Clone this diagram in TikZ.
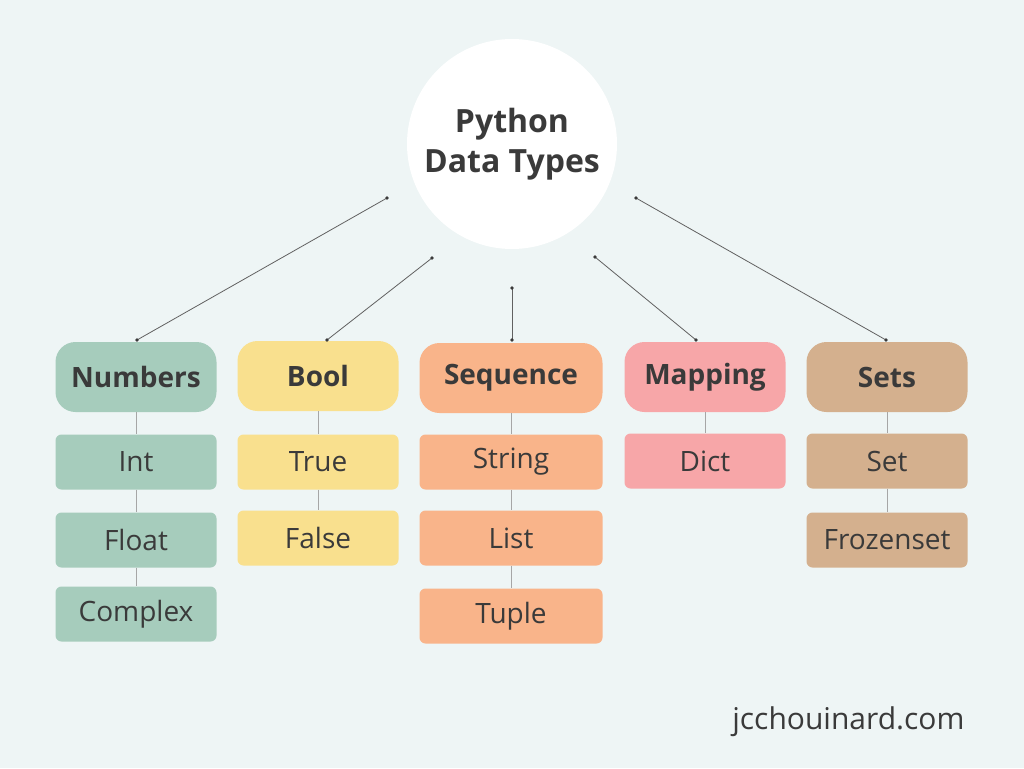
\documentclass[tikz,border=0pt]{standalone}
\usepackage{fontspec}
\setmainfont{Open Sans}
\definecolor{bg}{HTML}{EEF5F5}
\definecolor{cnum}{HTML}{A6CCBC}
\definecolor{cbool}{HTML}{F9E08E}
\definecolor{cseq}{HTML}{F9B48A}
\definecolor{cmap}{HTML}{F7A6A8}
\definecolor{cset}{HTML}{D4B08E}
\definecolor{txt}{HTML}{3A3A3A}
\begin{document}
\begin{tikzpicture}[x=1pt,y=-1pt,
 cat/.style={rounded corners=20pt,minimum width=161pt,minimum height=70pt,text=txt,font=\bfseries\fontsize{28}{32}\selectfont,inner sep=0},
 leaf/.style={rounded corners=6pt,minimum width=161pt,minimum height=55pt,text=txt,font=\fontsize{28}{32}\selectfont,inner sep=0},
 link/.style={draw=txt!80,line width=0.8pt},
 vlink/.style={draw=gray!70,line width=0.6pt},
 dot/.style={circle,fill=txt,inner sep=1.3pt}]
\fill[bg] (0,0) rectangle (1024,768);
\useasboundingbox (0,0) rectangle (1024,768);
\node[circle,fill=white,minimum size=210pt,text=txt,font=\bfseries\fontsize{32}{40}\selectfont,align=center] (root) at (512,144) {Python\\Data Types};
\node[cat,fill=cnum] (num) at (136,377) {Numbers};
\node[cat,fill=cbool] (bool) at (318,376) {Bool};
\node[cat,fill=cseq,minimum width=183pt] (seq) at (511,378) {Sequence};
\node[cat,fill=cmap] (map) at (705,377) {Mapping};
\node[cat,fill=cset] (sets) at (887,377) {Sets};
\coordinate (a1) at (387,198); \coordinate (b1) at (137,340);
\coordinate (a2) at (432,258); \coordinate (b2) at (327,340);
\coordinate (a3) at (512,288); \coordinate (b3) at (512,340);
\coordinate (a4) at (595,257); \coordinate (b4) at (696,340);
\coordinate (a5) at (636,198); \coordinate (b5) at (886,340);
\foreach \i in {1,...,5}{\draw[link] (a\i) -- (b\i); \node[dot] at (a\i) {}; \node[dot] at (b\i) {};}
\node[leaf,fill=cnum] (int) at (136,462) {Int};
\node[leaf,fill=cnum] (float) at (136,540) {Float};
\node[leaf,fill=cnum] (complex) at (136,614) {Complex};
\node[leaf,fill=cbool] (true) at (318,462) {True};
\node[leaf,fill=cbool] (false) at (318,538) {False};
\node[leaf,fill=cseq,minimum width=183pt] (string) at (511,462) {String};
\node[leaf,fill=cseq,minimum width=183pt] (list) at (511,538) {List};
\node[leaf,fill=cseq,minimum width=183pt] (tuple) at (511,616) {Tuple};
\node[leaf,fill=cmap] (dict) at (705,461) {Dict};
\node[leaf,fill=cset] (set) at (887,461) {Set};
\node[leaf,fill=cset] (frozen) at (887,540) {Frozenset};
\draw[vlink] (num) -- (int); \draw[vlink] (int) -- (float); \draw[vlink] (float) -- (complex);
\draw[vlink] (bool) -- (true); \draw[vlink] (true) -- (false);
\draw[vlink] (seq) -- (string); \draw[vlink] (string) -- (list); \draw[vlink] (list) -- (tuple);
\draw[vlink] (map) -- (dict);
\draw[vlink] (sets) -- (set); \draw[vlink] (set) -- (frozen);
\node[anchor=east,text=txt,font=\fontsize{30}{34}\selectfont] (site) at (968,722) {jcchouinard.com};
\end{tikzpicture}
\end{document}
